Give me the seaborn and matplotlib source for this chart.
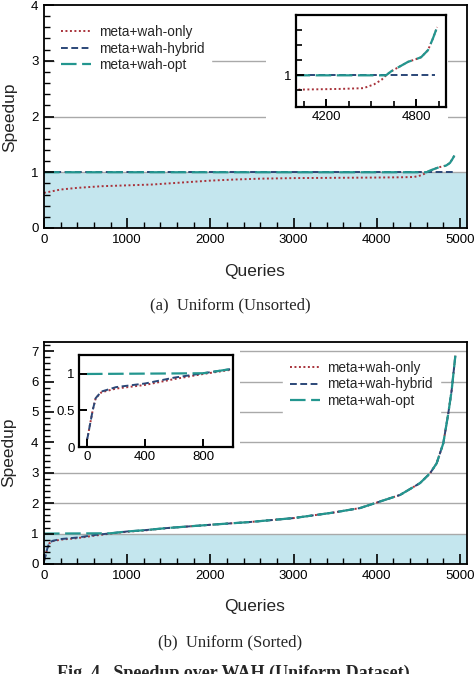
import matplotlib
matplotlib.use("Agg")
import matplotlib.pyplot as plt
import seaborn as sns
from matplotlib.patches import Rectangle
from matplotlib.ticker import MultipleLocator, FixedLocator

# ---- data ----
# (a) Uniform (Unsorted)
top_only_x = [0, 100, 200, 400, 700, 1000, 1300, 1600, 1800, 2000, 2300, 2600, 3000,
              3500, 4000, 4300, 4450, 4520, 4570, 4600, 4635, 4748, 4794, 4834, 4880, 4913, 4941]
top_only_y = [0.63, 0.66, 0.69, 0.72, 0.75, 0.765, 0.78, 0.81, 0.83, 0.85, 0.87, 0.885, 0.895,
              0.9, 0.905, 0.91, 0.915, 0.94, 0.97, 1.0, 1.027, 1.09, 1.105, 1.12, 1.167, 1.245, 1.32]
top_hybrid_x = [0, 4925]
top_hybrid_y = [1.0, 1.0]
top_opt_x = [0, 4600, 4635, 4748, 4794, 4834, 4880, 4913, 4941]
top_opt_y = [1.0, 1.0, 1.027, 1.09, 1.105, 1.12, 1.167, 1.245, 1.32]

# (b) Uniform (Sorted)
bot_hybrid_x = [0, 5, 20, 40, 60, 100, 200, 400, 600, 800, 1000, 1200, 1470, 2000, 2475,
                3000, 3475, 3800, 4000, 4280, 4520, 4640, 4720, 4800, 4860, 4900, 4945]
bot_hybrid_y = [0.1, 0.14, 0.30, 0.51, 0.67, 0.76, 0.82, 0.87, 0.95, 1.01, 1.07, 1.11, 1.18, 1.29, 1.38,
                1.51, 1.69, 1.84, 2.02, 2.27, 2.66, 2.98, 3.31, 3.97, 4.95, 5.7, 6.85]
bot_only_x = bot_hybrid_x
bot_only_y = [0.1, 0.14, 0.30, 0.51, 0.67, 0.75, 0.80, 0.85, 0.93, 1.0, 1.06, 1.10, 1.18, 1.29, 1.38,
              1.51, 1.69, 1.84, 2.02, 2.27, 2.66, 2.98, 3.31, 3.97, 4.95, 5.7, 6.85]
bot_opt_x = [0, 800, 1000, 1200, 1470, 2000, 2475, 3000, 3475, 3800, 4000, 4280, 4520,
             4640, 4720, 4800, 4860, 4900, 4945]
bot_opt_y = [1.0, 1.01, 1.07, 1.11, 1.18, 1.29, 1.38, 1.51, 1.69, 1.84, 2.02, 2.27, 2.66,
             2.98, 3.31, 3.97, 4.95, 5.7, 6.85]

labels = ["meta+wah-only", "meta+wah-hybrid", "meta+wah-opt"]

RED = "#a8323a"
NAVY = "#2b4878"
TEAL = "#23968f"
FILL = "#c4e6ee"
GRID = "#a9a9a9"

sns.set_style("ticks")
plt.rcParams["font.family"] = ["Liberation Sans", "DejaVu Sans"]
plt.rcParams["xtick.direction"] = "in"
plt.rcParams["ytick.direction"] = "in"
plt.rcParams["xtick.color"] = "black"
plt.rcParams["ytick.color"] = "black"
plt.rcParams["axes.axisbelow"] = False  # ticks must sit on top of the shaded band

W, H = 474, 674
fig = plt.figure(figsize=(W / 100, H / 100), dpi=100)


def fbox(left, top, right, bottom):
    return [left / W, 1 - bottom / H, (right - left) / W, (bottom - top) / H]


def draw_series(ax, series, with_labels=True):
    styles = [dict(color=RED, ls=(0, (1, 1.3)), lw=1.4),
              dict(color=NAVY, ls=(0, (3.5, 1.8)), lw=1.4),
              dict(color=TEAL, ls=(0, (7, 2.5)), lw=1.6)]
    for (xs, ys), st, lab in zip(series, styles, labels):
        sns.lineplot(x=xs, y=ys, ax=ax, color=st["color"], linestyle=st["ls"],
                     linewidth=st["lw"], label=lab if with_labels else None,
                     legend=False)


def style_main(ax, ymax):
    ax.set_axisbelow(False)
    ax.set_xlim(0, 5085)
    ax.set_ylim(0, ymax)
    ax.xaxis.set_major_locator(MultipleLocator(1000))
    ax.xaxis.set_minor_locator(MultipleLocator(200))
    ax.yaxis.set_major_locator(MultipleLocator(1))
    ax.yaxis.set_minor_locator(MultipleLocator(0.2))
    ax.tick_params(which="major", length=7, width=1.2, labelsize=9.5, pad=4, color="black")
    ax.tick_params(which="minor", length=4, width=1.0, color="black")
    for s in ax.spines.values():
        s.set_linewidth(1.3)
        s.set_color("black")
    ax.set_xlabel("")
    ax.set_ylabel("")


def style_inset(ax):
    ax.set_axisbelow(False)
    for s in ax.spines.values():
        s.set_linewidth(1.6)
        s.set_color("black")
    ax.tick_params(which="major", length=6, width=1.4, labelsize=9.5, pad=3, color="black")
    ax.tick_params(which="minor", length=4, width=1.2, color="black")
    ax.set_xlabel("")
    ax.set_ylabel("")


def add_legend(ax, anchor):
    h, l = ax.get_legend_handles_labels()
    ax.legend(h, l, loc="upper left", bbox_to_anchor=anchor, borderaxespad=0,
              fontsize=9.8, frameon=True, facecolor="white", edgecolor="white",
              framealpha=1, fancybox=False, handlelength=2.2, handletextpad=0.55,
              labelspacing=0.18, borderpad=0.5)


# ---------------- (a) top panel ----------------
ax1 = fig.add_axes(fbox(44, 5, 467, 228))
ax1.axhspan(0, 1, color=FILL, zorder=0.5, lw=0)
for g in [1, 2, 3]:
    ax1.axhline(g, color=GRID, lw=1.0, zorder=0.8)
ax1.add_patch(Rectangle((266 / W, 1 - 124 / H), 182 / W, 120 / H, transform=fig.transFigure,
                        facecolor="white", edgecolor="none", zorder=0.9))
top_series = [(top_only_x, top_only_y), (top_hybrid_x, top_hybrid_y), (top_opt_x, top_opt_y)]
draw_series(ax1, top_series)
style_main(ax1, 4)
add_legend(ax1, (0.025, 0.94))

ins1 = fig.add_axes(fbox(296, 15, 446, 107))
draw_series(ins1, top_series, with_labels=False)
ins1.set_xlim(4000, 5000)
ins1.set_ylim(0.79, 1.4)
ins1.xaxis.set_major_locator(FixedLocator([4200, 4800]))
ins1.xaxis.set_minor_locator(FixedLocator([4050, 4350, 4500, 4650, 4950]))
ins1.yaxis.set_major_locator(FixedLocator([1.0]))
ins1.yaxis.set_minor_locator(FixedLocator([0.9, 1.1, 1.2, 1.3]))
ins1.set_yticklabels(["1"])
style_inset(ins1)

fig.text(10 / W, 1 - 117 / H, "Speedup", rotation=90, ha="center", va="center", fontsize=12.5)
fig.text(255 / W, 1 - 271 / H, "Queries", ha="center", va="center", fontsize=12.5)
fig.text(230 / W, 1 - 305 / H, "(a)  Uniform (Unsorted)", ha="center", va="center",
         fontsize=12, family=["Liberation Serif", "DejaVu Serif"])

# ---------------- (b) bottom panel ----------------
ax2 = fig.add_axes(fbox(44, 342, 467, 564))
ax2.axhspan(0, 1, color=FILL, zorder=0.5, lw=0)
for g in range(1, 8):
    ax2.axhline(g, color=GRID, lw=1.0, zorder=0.8)
ax2.add_patch(Rectangle((45 / W, 1 - 458 / H), 195 / W, 115 / H, transform=fig.transFigure,
                        facecolor="white", edgecolor="none", zorder=0.9))
bot_series = [(bot_only_x, bot_only_y), (bot_hybrid_x, bot_hybrid_y), (bot_opt_x, bot_opt_y)]
draw_series(ax2, bot_series)
style_main(ax2, 7.3)
add_legend(ax2, (0.565, 0.945))

ins2 = fig.add_axes(fbox(79, 355, 233, 447))
draw_series(ins2, bot_series, with_labels=False)
ins2.set_xlim(-55, 1005)
ins2.set_ylim(0, 1.26)
ins2.xaxis.set_major_locator(FixedLocator([0, 400, 800]))
ins2.yaxis.set_major_locator(FixedLocator([0, 0.5, 1]))
ins2.set_yticklabels(["0", "0.5", "1"])
style_inset(ins2)

fig.text(9 / W, 1 - 452 / H, "Speedup", rotation=90, ha="center", va="center", fontsize=12.5)
fig.text(255 / W, 1 - 607 / H, "Queries", ha="center", va="center", fontsize=12.5)
fig.text(230 / W, 1 - 642 / H, "(b)  Uniform (Sorted)", ha="center", va="center",
         fontsize=12, family=["Liberation Serif", "DejaVu Serif"])

# figure caption, cropped by the bottom edge as in the reference
fig.text(233 / W, 1 - 665 / H, "Fig. 4.  Speedup over WAH (Uniform Dataset)", ha="center",
         va="top", fontsize=13, fontweight="bold", family=["Liberation Serif", "DejaVu Serif"])

fig.savefig("out.png", dpi=100)
